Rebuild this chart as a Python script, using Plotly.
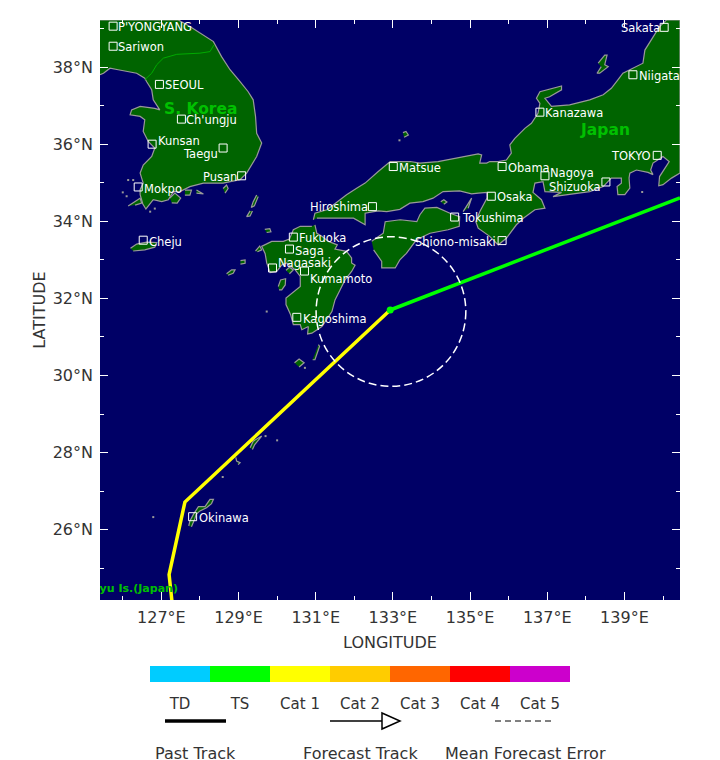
import plotly.graph_objects as go

korea_lon = [125.41, 127.44, 127.74, 128.00, 128.35, 128.56, 128.78, 129.04, 129.25, 129.38, 129.44, 129.47, 129.60, 129.47, 129.21, 129.04, 128.60, 128.35, 128.09, 127.74, 127.48, 127.31, 127.18, 127.01, 126.79, 126.60, 126.52, 126.45, 126.45, 126.53, 126.45, 126.53, 126.75, 126.83, 126.66, 126.53, 126.57, 126.45, 126.19, 126.23, 126.45, 126.83, 126.96, 126.79, 126.75, 126.62, 126.57, 126.36, 126.10, 125.88, 125.67, 125.50, 125.41]
korea_lat = [39.22, 39.22, 39.05, 38.88, 38.66, 38.27, 37.93, 37.62, 37.36, 37.15, 36.72, 36.28, 36.03, 35.68, 35.25, 35.08, 34.99, 34.99, 34.99, 34.90, 34.77, 34.77, 34.56, 34.51, 34.56, 34.32, 34.45, 34.69, 34.82, 34.99, 35.25, 35.46, 35.68, 35.90, 36.07, 36.33, 36.63, 36.72, 36.76, 36.89, 36.98, 36.93, 36.89, 37.15, 37.41, 37.62, 37.71, 37.84, 37.88, 37.93, 37.97, 37.84, 37.80]
dmz_lon = [126.57, 126.75, 126.88, 127.05, 127.40, 128.00, 128.26, 128.36]
dmz_lat = [37.67, 37.84, 38.06, 38.23, 38.33, 38.36, 38.40, 38.57]

jindo_lon = [126.14, 126.36, 126.45, 126.49, 126.32]
jindo_lat = [34.40, 34.55, 34.60, 34.47, 34.42]
geoje_lon = [128.60, 128.69, 128.73, 128.65]
geoje_lat = [34.85, 34.94, 34.85, 34.73]
namhae_lon = [127.22, 127.35, 127.50, 127.41, 127.27]
namhae_lat = [34.60, 34.73, 34.60, 34.47, 34.48]
goheung_lon = [127.61, 127.78, 127.74, 127.61]
goheung_lat = [34.81, 34.81, 34.68, 34.68]
tongyeong_lon = [127.91, 128.09, 127.91]
tongyeong_lat = [34.81, 34.71, 34.73]
cheju_lon = [126.20, 126.36, 126.62, 126.88, 126.83, 126.57, 126.27]
cheju_lat = [33.30, 33.41, 33.46, 33.45, 33.33, 33.26, 33.23]
tsushima_n_lon = [129.47, 129.38, 129.33, 129.41, 129.51]
tsushima_n_lat = [34.68, 34.51, 34.36, 34.40, 34.64]
tsushima_s_lon = [129.30, 129.21, 129.30, 129.36]
tsushima_s_lat = [34.27, 34.12, 34.14, 34.27]
iki_lon = [129.68, 129.81, 129.84, 129.73]
iki_lat = [33.79, 33.81, 33.73, 33.71]
goto_lon = [128.69, 128.82, 128.91, 128.86, 128.73]
goto_lat = [32.64, 32.74, 32.74, 32.65, 32.60]
fukue_lon = [129.05, 129.17, 129.17, 129.05]
fukue_lat = [32.98, 33.00, 32.91, 32.89]
hirado_lon = [129.44, 129.55, 129.60, 129.49]
hirado_lat = [33.23, 33.36, 33.26, 33.21]

kyushu_lon = [130.98, 131.03, 131.16, 131.33, 131.56, 131.50, 131.80, 131.93, 131.93, 132.02, 131.93, 131.76, 131.63, 131.50, 131.42, 131.16, 130.90, 130.79, 130.81, 130.64, 130.60, 130.42, 130.35, 130.23, 130.23, 130.38, 130.60, 130.60, 130.47, 130.25, 130.12, 129.99, 129.82, 129.73, 129.69, 129.60, 129.86, 130.16, 130.32, 130.42, 130.60, 130.90]
kyushu_lat = [33.91, 33.69, 33.61, 33.48, 33.39, 33.28, 33.22, 33.05, 32.92, 32.86, 32.70, 32.48, 32.22, 31.96, 31.66, 31.27, 31.10, 31.08, 31.27, 31.19, 31.32, 31.32, 31.58, 31.84, 32.01, 32.14, 32.31, 32.57, 32.74, 32.92, 32.87, 32.70, 32.67, 32.92, 33.16, 33.35, 33.48, 33.48, 33.54, 33.78, 33.87, 33.87]
shimabara_lon = [130.23, 130.32, 130.42, 130.32]
shimabara_lat = [32.73, 32.81, 32.74, 32.64]
amakusa_lon = [130.03, 130.09, 130.22, 130.21, 130.12, 130.05]
amakusa_lat = [32.31, 32.48, 32.51, 32.35, 32.22, 32.22]
tanegashima_lon = [131.07, 131.10, 130.98, 130.92]
tanegashima_lat = [30.80, 30.76, 30.41, 30.41]
yakushima_lon = [130.45, 130.57, 130.70, 130.57]
yakushima_lat = [30.33, 30.43, 30.33, 30.22]
oki_lon = [133.26, 133.34, 133.40, 133.29]
oki_lat = [36.30, 36.33, 36.24, 36.18]

honshu_lon = [130.94, 130.98, 131.29, 131.55, 131.80, 132.06, 132.28, 132.62, 132.84, 132.93, 133.45, 133.70, 134.17, 134.65, 135.21, 135.30, 135.25, 135.43, 135.51, 135.73, 135.94, 136.07, 136.03, 136.16, 136.42, 136.59, 136.76, 136.81, 136.72, 136.81, 137.15, 137.37, 137.37, 137.06, 136.94, 137.11, 137.58, 138.10, 138.45, 138.66, 138.83, 138.96, 139.14, 139.48, 139.53, 139.70, 139.91, 140.09, 140.44, 140.44, 140.22, 140.00, 139.89, 139.91, 140.09, 140.16, 140.00, 139.87, 139.74, 139.68, 139.74, 139.61, 139.31, 139.14, 139.12, 139.14, 139.01, 138.83, 138.81, 138.92, 138.92, 138.66, 138.45, 138.10, 137.58, 137.15, 137.37, 136.94, 136.89, 136.68, 136.63, 136.85, 136.94, 136.68, 136.38, 136.20, 135.94, 135.73, 135.51, 135.21, 135.15, 135.25, 135.44, 135.44, 135.21, 135.04, 134.73, 134.30, 134.04, 133.78, 133.44, 133.18, 132.84, 132.62, 132.28, 132.28, 131.98, 131.55, 131.03]
honshu_lat = [34.04, 34.21, 34.30, 34.51, 34.69, 34.86, 34.99, 35.29, 35.46, 35.55, 35.55, 35.51, 35.55, 35.64, 35.75, 35.72, 35.51, 35.51, 35.55, 35.55, 35.59, 35.77, 35.98, 36.15, 36.41, 36.54, 36.80, 37.06, 37.19, 37.36, 37.45, 37.51, 37.41, 37.23, 37.19, 36.98, 37.02, 37.15, 37.28, 37.45, 37.67, 37.84, 37.93, 38.10, 38.44, 38.70, 39.05, 39.22, 39.22, 35.25, 35.12, 34.95, 34.92, 35.16, 35.42, 35.55, 35.68, 35.59, 35.51, 35.33, 35.21, 35.27, 35.33, 35.25, 35.12, 34.86, 34.69, 34.69, 34.90, 34.99, 35.12, 35.12, 34.90, 34.77, 34.69, 34.64, 34.75, 34.77, 35.03, 34.99, 34.75, 34.56, 34.34, 34.30, 34.08, 33.91, 33.56, 33.39, 33.61, 33.82, 33.99, 34.25, 34.60, 34.75, 34.73, 34.71, 34.79, 34.77, 34.60, 34.51, 34.47, 34.31, 34.25, 34.27, 34.21, 33.91, 34.08, 34.08, 34.08]
shikoku_lon = [132.45, 132.75, 132.80, 133.19, 133.62, 133.70, 133.83, 134.14, 134.48, 134.73, 134.72, 134.43, 133.96, 133.61, 133.35, 133.18, 133.06, 132.71, 132.71, 132.50]
shikoku_lat = [33.48, 33.69, 33.99, 34.04, 33.99, 34.17, 34.34, 34.36, 34.21, 34.12, 33.87, 33.78, 33.69, 33.52, 33.17, 33.00, 32.79, 32.79, 32.96, 33.26]
awaji_lon = [134.82, 135.04, 134.95]
awaji_lat = [34.25, 34.60, 34.34]
shodo_lon = [134.24, 134.32, 134.40, 134.32]
shodo_lat = [34.51, 34.56, 34.50, 34.44]
sado_lon = [138.32, 138.49, 138.55, 138.49, 138.58, 138.36, 138.29, 138.40]
sado_lat = [38.10, 38.31, 38.31, 38.06, 38.01, 37.84, 37.84, 38.01]
okinawa_lon = [127.71, 127.74, 127.83, 127.96, 128.13, 128.26, 128.35, 128.30, 128.17, 128.00, 127.90, 127.87, 127.78]
okinawa_lat = [26.10, 26.23, 26.40, 26.60, 26.60, 26.79, 26.79, 26.68, 26.57, 26.49, 26.40, 26.29, 26.08]
amami_lon = [129.30, 129.38, 129.60, 129.51, 129.42, 129.36]
amami_lat = [28.13, 28.30, 28.43, 28.32, 28.21, 28.08]
toku_lon = [128.93, 128.95, 129.04, 128.99]
toku_lat = [27.88, 27.78, 27.74, 27.69]

islet_lon = [126.79, 128.59, 129.70, 130.00, 139.46, 126.00, 126.10, 126.14, 126.27, 126.71, 126.83, 129.73, 133.17, 130.72]
islet_lat = [26.33, 27.37, 28.43, 28.32, 34.76, 34.75, 34.65, 35.07, 35.07, 34.25, 34.33, 31.66, 36.10, 30.20]

lands = [
    (korea_lon, korea_lat), (jindo_lon, jindo_lat), (geoje_lon, geoje_lat),
    (namhae_lon, namhae_lat), (goheung_lon, goheung_lat), (tongyeong_lon, tongyeong_lat),
    (cheju_lon, cheju_lat), (tsushima_n_lon, tsushima_n_lat), (tsushima_s_lon, tsushima_s_lat),
    (iki_lon, iki_lat), (goto_lon, goto_lat), (fukue_lon, fukue_lat), (hirado_lon, hirado_lat),
    (kyushu_lon, kyushu_lat), (shimabara_lon, shimabara_lat), (amakusa_lon, amakusa_lat),
    (tanegashima_lon, tanegashima_lat), (yakushima_lon, yakushima_lat), (oki_lon, oki_lat),
    (honshu_lon, honshu_lat), (shikoku_lon, shikoku_lat), (awaji_lon, awaji_lat),
    (shodo_lon, shodo_lat), (sado_lon, sado_lat), (okinawa_lon, okinawa_lat),
    (amami_lon, amami_lat), (toku_lon, toku_lat),
]

# cities
city_names = ["P'YONGYANG", "Sariwon", "SEOUL", "Ch'ungju", "Kunsan", "Taegu", "Pusan", "Mokpo", "Cheju", "Fukuoka", "Saga", "Nagasaki", "Kumamoto", "Kagoshima", "Hiroshima", "Matsue", "Obama", "Osaka", "Tokushima", "Shiono-misaki", "Kanazawa", "Nagoya", "Shizuoka", "TOKYO", "Niigata", "Sakata", "Okinawa"]
city_lon = [125.75, 125.75, 126.95, 127.52, 126.76, 128.60, 129.08, 126.40, 126.53, 130.42, 130.32, 129.88, 130.71, 130.51, 132.47, 133.01, 135.83, 135.55, 134.60, 135.83, 136.81, 136.94, 138.52, 139.85, 139.22, 140.03, 127.81]
city_lat = [39.06, 38.54, 37.55, 36.65, 36.00, 35.90, 35.18, 34.89, 33.51, 33.59, 33.28, 32.79, 32.71, 31.51, 34.38, 35.42, 35.42, 34.65, 34.11, 33.50, 36.83, 35.18, 35.02, 35.71, 37.80, 39.03, 26.34]
city_dx = [5, 5, 6, 5, 6, -5, -5, 6, 6, 6, 6, 5, 5, 6, -4, 6, 6, 6, 7, -6, 5, 5, -5, -6, 6, -4, 6]
city_dy = [1, 1, 1, 1, -3, 6, 1, 2, 2, 1, 2, -5, 8, 2, 0, 1, 1, 1, 1, 1, 1, -3, 5, 1, 1, 1, 1]

# storm track
past_lon = [127.29, 127.20, 127.61, 132.93]
past_lat = [24.00, 24.84, 26.72, 31.70]
forecast_lon = [132.93, 140.44]
forecast_lat = [31.70, 34.61]
error_lon = 132.95
error_lat = 31.66
error_radius = 1.94

lon_ticks = [127, 129, 131, 133, 135, 137, 139]
lon_labels = ["127°E", "129°E", "131°E", "133°E", "135°E", "137°E", "139°E"]
lat_ticks = [26, 28, 30, 32, 34, 36, 38]
lat_labels = ["26°N", "28°N", "30°N", "32°N", "34°N", "36°N", "38°N"]

categories = ["TD", "TS", "Cat 1", "Cat 2", "Cat 3", "Cat 4", "Cat 5"]
category_colors = ["#00CCFF", "#00FF00", "#FFFF00", "#FFCC00", "#FF6600", "#FF0000", "#CC00CC"]
category_heights = [1, 1, 1, 1, 1, 1, 1]

FONT = "DejaVu Sans"
TEXT_COLOR = "#333333"
COUNTRY_GREEN = "#00C000"


# page pixels to paper fractions; the browser body adds 8px on top and left
def paper_x(px):
    return (px - 100) / 580


def paper_y(py):
    return (760 - py) / 740


fig = go.Figure()

for lon, lat in lands:
    fig.add_trace(go.Scatter(x=lon, y=lat, mode="lines", fill="toself", fillcolor="#006400",
                             line=dict(color="#999999", width=1.2)))
fig.add_trace(go.Scatter(x=dmz_lon, y=dmz_lat, mode="lines", line=dict(color="#00AA00", width=1)))
fig.add_trace(go.Scatter(x=islet_lon, y=islet_lat, mode="markers",
                         marker=dict(symbol="square", size=2, color="#999999")))

fig.add_trace(go.Scatter(x=past_lon, y=past_lat, mode="lines", line=dict(color="#FFFF00", width=3.5)))
fig.add_trace(go.Scatter(x=forecast_lon, y=forecast_lat, mode="lines", line=dict(color="#00FF00", width=3.5)))
fig.add_trace(go.Scatter(x=forecast_lon[:1], y=forecast_lat[:1], mode="markers",
                         marker=dict(color="#00FF00", size=7)))

fig.add_trace(go.Scatter(x=city_lon, y=city_lat, mode="markers",
                         marker=dict(symbol="square-open", size=8, color="white", line=dict(width=1, color="white"))))
for name, lon, lat, dx, dy in zip(city_names, city_lon, city_lat, city_dx, city_dy):
    fig.add_annotation(x=lon, y=lat, text=name, showarrow=False, xanchor="left" if dx > 0 else "right",
                       xshift=dx, yshift=-dy, borderpad=0, borderwidth=0,
                       font=dict(family=FONT, size=11.5, color="white"))

# country names, Ryukyu one runs off the map edge so it has to clip
fig.add_trace(go.Scatter(x=[128.02, 138.51], y=[36.88, 36.34], mode="text", text=["S. Korea", "Japan"],
                         textposition="middle center", cliponaxis=True,
                         textfont=dict(family=FONT, size=15.5, color=COUNTRY_GREEN, weight="bold")))
fig.add_trace(go.Scatter(x=[127.43], y=[24.46], mode="text", text=["Ryukyu Is.(Japan)"],
                         textposition="middle left", cliponaxis=True,
                         textfont=dict(family=FONT, size=11, color=COUNTRY_GREEN, weight="bold")))

# category colour strip
fig.add_trace(go.Bar(x=categories, y=category_heights, marker=dict(color=category_colors, line_width=0),
                     xaxis="x2", yaxis="y2"))

fig.add_shape(type="circle", x0=error_lon - error_radius, x1=error_lon + error_radius,
              y0=error_lat - error_radius, y1=error_lat + error_radius,
              line=dict(color="white", width=1.5, dash="8px,4px"))

# legend keys under the map
fig.add_shape(type="line", xref="paper", yref="paper", x0=paper_x(165), x1=paper_x(226),
              y0=paper_y(721), y1=paper_y(721), line=dict(color="black", width=3.5))
fig.add_shape(type="line", xref="paper", yref="paper", x0=paper_x(330), x1=paper_x(382),
              y0=paper_y(721), y1=paper_y(721), line=dict(color="black", width=1.5))
fig.add_shape(type="path", xref="paper", yref="paper",
              path=f"M {paper_x(382)} {paper_y(713)} L {paper_x(400)} {paper_y(721)} L {paper_x(382)} {paper_y(729)} Z",
              line=dict(color="black", width=1.5))
fig.add_shape(type="line", xref="paper", yref="paper", x0=paper_x(495), x1=paper_x(552),
              y0=paper_y(721), y1=paper_y(721), line=dict(color="black", width=1, dash="6px,4px"))
for text, px in [("Past Track", 195), ("Forecast Track", 360), ("Mean Forecast Error", 525)]:
    fig.add_annotation(xref="paper", yref="paper", x=paper_x(px), y=paper_y(753), text=text, showarrow=False,
                       xanchor="center", yanchor="middle",
                       font=dict(family=FONT, size=16, color=TEXT_COLOR))

fig.update_layout(
    width=712,
    height=752,
    margin=dict(l=92, r=40, t=12, b=0),
    paper_bgcolor="white",
    plot_bgcolor="#000066",
    showlegend=False,
    hovermode=False,
    bargap=0,
    font=dict(family=FONT, color=TEXT_COLOR),
    xaxis=dict(
        domain=[0, 1], range=[125.41, 140.44], anchor="y", showgrid=False, zeroline=False,
        tickmode="array", tickvals=lon_ticks, ticktext=lon_labels, tickfont=dict(size=16, color=TEXT_COLOR),
        ticks="inside", ticklen=8, tickcolor="white", tickwidth=1, mirror="ticks", ticklabelstandoff=6,
        minor=dict(tick0=125, dtick=1, ticks="inside", ticklen=4, tickcolor="white", tickwidth=1, showgrid=False),
        title=dict(text="LONGITUDE", font=dict(size=16, color=TEXT_COLOR), standoff=10),
    ),
    yaxis=dict(
        domain=[160 / 740, 1], range=[24.18, 39.22], anchor="x", showgrid=False, zeroline=False,
        tickmode="array", tickvals=lat_ticks, ticktext=lat_labels, tickfont=dict(size=16, color=TEXT_COLOR),
        ticks="inside", ticklen=8, tickcolor="white", tickwidth=1, mirror="ticks", ticklabelstandoff=6,
        minor=dict(tick0=24, dtick=1, ticks="inside", ticklen=4, tickcolor="white", tickwidth=1, showgrid=False),
        title=dict(text="LATITUDE", font=dict(size=16, color=TEXT_COLOR), standoff=3),
    ),
    xaxis2=dict(
        domain=[paper_x(150), paper_x(570)], anchor="y2", type="category", showgrid=False, zeroline=False,
        ticks="", ticklabelstandoff=11, tickfont=dict(size=15, color=TEXT_COLOR),
    ),
    yaxis2=dict(domain=[paper_y(682), paper_y(666)], anchor="x2", range=[0, 1], visible=False),
)

fig.write_html("out.html")
